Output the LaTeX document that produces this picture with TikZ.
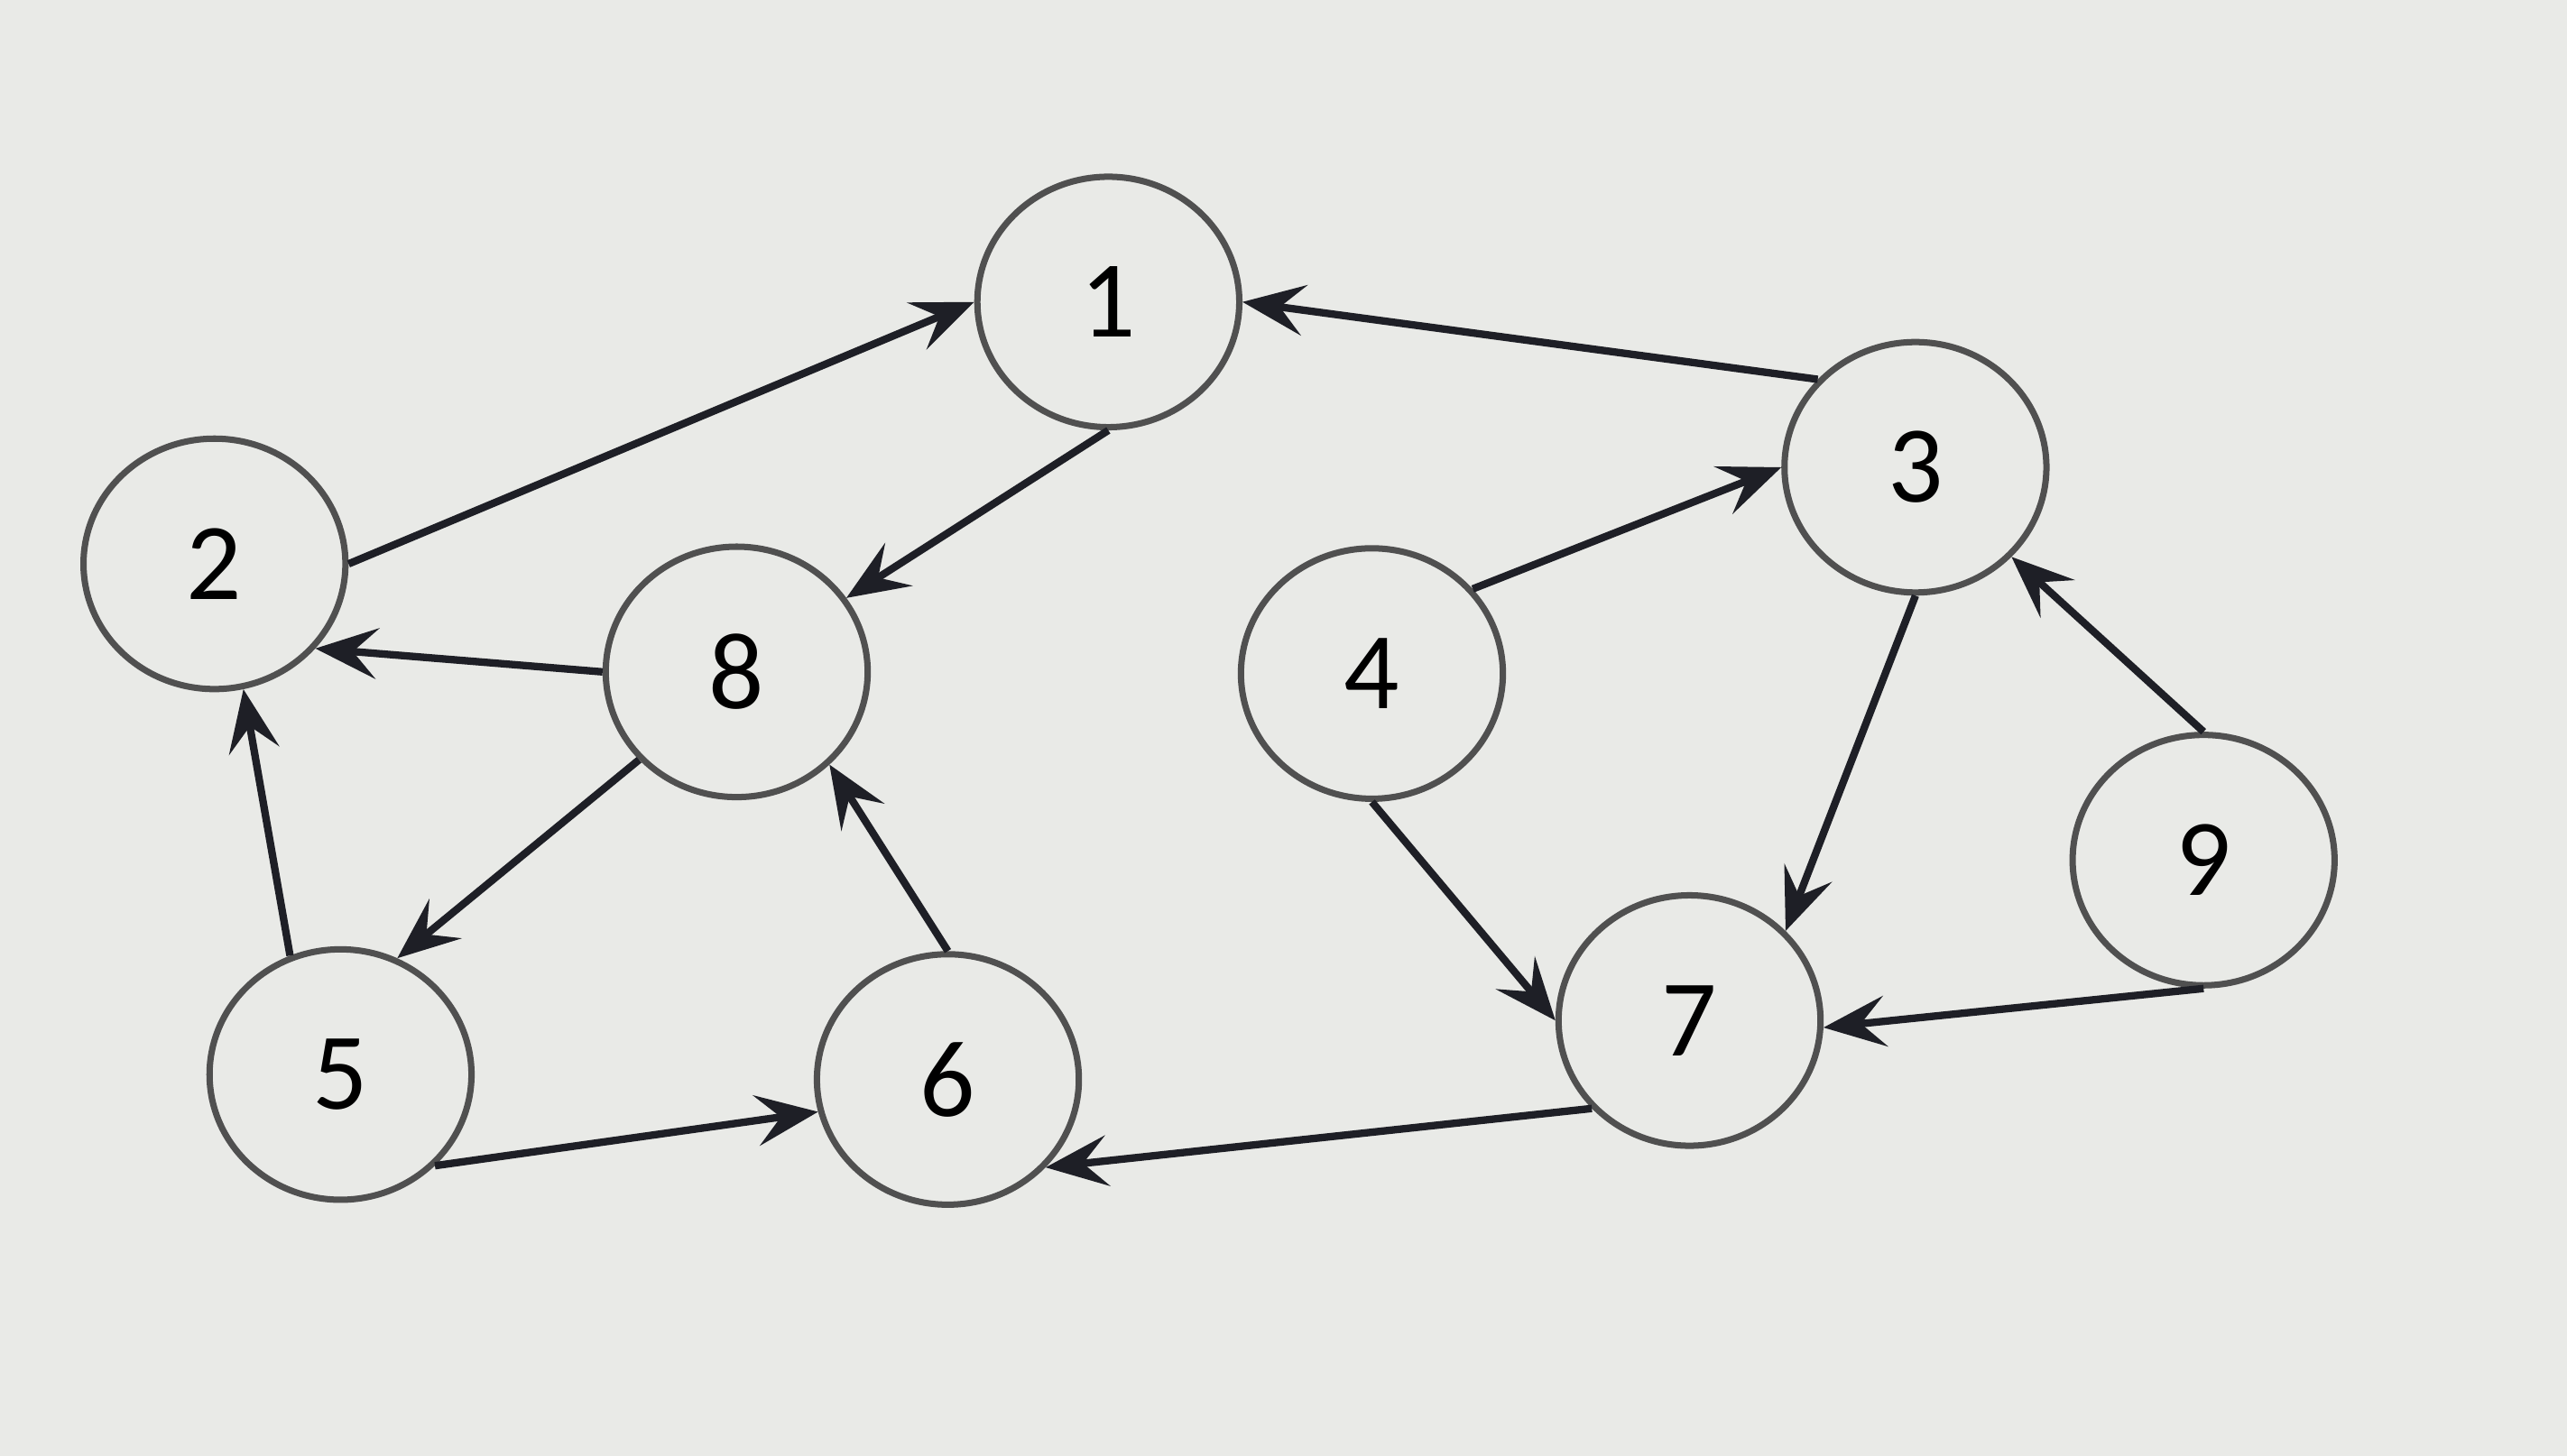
\documentclass[tikz,border=0pt]{standalone}
\usepackage{fontspec}
\setmainfont{Carlito}
\usepackage{tikz}
\usetikzlibrary{shapes.geometric,arrows.meta}
\definecolor{paper}{HTML}{E9EAE7}
\definecolor{ring}{HTML}{505050}
\definecolor{ink}{HTML}{1E1F26}

\begin{document}
\begin{tikzpicture}[vertex/.style={ellipse,draw=ring,line width=1.1pt,minimum width=1.6cm,minimum height=1.53cm,inner sep=0pt,font=\fontsize{19}{21}\selectfont},
  edge/.style={draw=ink,line width=1.3pt,-{Stealth[length=3.8mm,width=3.1mm,inset=1.5mm]}}]
\fill[paper] (0,0) rectangle (15.68,8.895);
\useasboundingbox (0,0) rectangle (15.68,8.895);
%Node Coordinates
\node at (6.77,7.05) [vertex] (Node1) {1};
\node at (1.31,5.45) [vertex] (Node2) {2};
\node at (11.70,6.04) [vertex] (Node3) {3};
\node at (8.38,4.78) [vertex] (Node4) {4};
\node at (2.08,2.33) [vertex] (Node5) {5};
\node at (5.79,2.30) [vertex] (Node6) {6};
\node at (10.32,2.66) [vertex] (Node7) {7};
\node at (4.50,4.79) [vertex] (Node8) {8};
\node at (13.46,3.64) [vertex] (Node9) {9};
%Connections
\draw [edge] (Node2.east) -- (Node1.west);
\draw [edge] (Node1.south) -- (Node8.34);
\draw [edge] (Node8.west) -- (Node2.-40);
\draw [edge] (Node8.222) -- (Node5.64);
\draw [edge] (Node5.113) -- (Node2.-77);
\draw [edge] (Node5.-44) -- (Node6.194);
\draw [edge] (Node6.north) -- (Node8.-45);
\draw [edge] (Node3.138) -- (Node1.east);
\draw [edge] (Node4.40) -- (Node3.west);
\draw [edge] (Node3.south) -- (Node7.43);
\draw [edge] (Node4.south) -- (Node7.west);
\draw [edge] (Node9.north) -- (Node3.-43);
\draw [edge] (Node9.south) -- (Node7.-3);
\draw [edge] (Node7.222) -- (Node6.-42);
\end{tikzpicture}
\end{document}
